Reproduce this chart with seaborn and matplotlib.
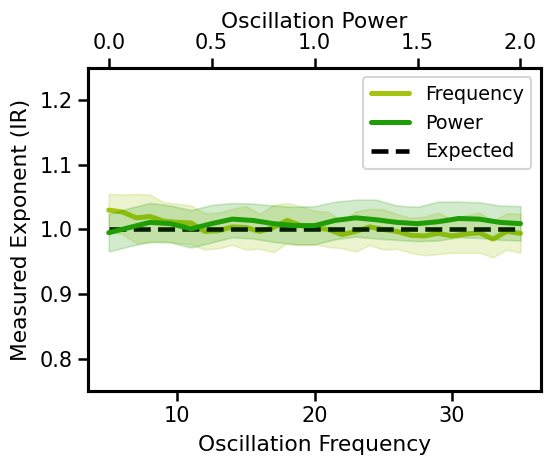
import numpy as np
import pandas as pd
import matplotlib
matplotlib.use("Agg")
import matplotlib.pyplot as plt
import seaborn as sns

# ---- data ----
freqs = list(range(5, 36))
freq_mean = [1.030, 1.027, 1.018, 1.020, 1.013, 1.011, 1.010, 0.997, 0.998, 1.004,
             1.003, 0.997, 1.003, 1.014, 1.006, 1.003, 1.000, 0.992, 0.997, 1.004,
             1.000, 0.997, 0.991, 0.990, 0.994, 0.990, 0.993, 0.995, 0.985, 0.997, 0.994]
freq_lower = [0.997, 0.993, 0.979, 0.980, 0.982, 0.979, 0.977, 0.969, 0.971, 0.976,
              0.969, 0.970, 0.965, 0.979, 0.976, 0.977, 0.973, 0.971, 0.966, 0.976,
              0.969, 0.970, 0.964, 0.960, 0.962, 0.964, 0.964, 0.964, 0.957, 0.969, 0.964]
freq_upper = [1.055, 1.054, 1.055, 1.054, 1.042, 1.040, 1.037, 1.025, 1.026, 1.032,
              1.036, 1.024, 1.038, 1.041, 1.036, 1.029, 1.027, 1.013, 1.028, 1.032,
              1.031, 1.024, 1.018, 1.020, 1.026, 1.016, 1.022, 1.026, 1.013, 1.025, 1.024]

powers = [0.0, 0.1, 0.2, 0.3, 0.4, 0.5, 0.6, 0.7, 0.8, 0.9, 1.0,
          1.1, 1.2, 1.3, 1.4, 1.5, 1.6, 1.7, 1.8, 1.9, 2.0]
pow_mean = [0.995, 1.003, 1.011, 1.009, 1.001, 1.009, 1.016, 1.014, 1.009, 1.006, 1.006,
            1.014, 1.018, 1.015, 1.011, 1.009, 1.012, 1.017, 1.016, 1.011, 1.009]
pow_lower = [0.966, 0.974, 0.981, 0.980, 0.972, 0.980, 0.988, 0.986, 0.981, 0.977, 0.977,
             0.985, 0.989, 0.986, 0.984, 0.982, 0.983, 0.988, 0.987, 0.984, 0.983]
pow_upper = [1.024, 1.033, 1.041, 1.037, 1.030, 1.038, 1.041, 1.040, 1.037, 1.035, 1.036,
             1.043, 1.046, 1.046, 1.037, 1.035, 1.043, 1.043, 1.042, 1.037, 1.036]

expected_x = [5, 35]
expected_y = [1.0, 1.0]

labels = ["Frequency", "Power", "Expected"]
x_label_bottom = "Oscillation Frequency"
x_label_top = "Oscillation Power"
y_label = "Measured Exponent (IR)"

# ---- style ----
sns.set_theme(style="ticks", context="talk")
plt.rcParams["font.family"] = ["DejaVu Sans"]
plt.rcParams.update({
    "text.color": "black",
    "axes.labelcolor": "black",
    "xtick.color": "black",
    "ytick.color": "black",
    "axes.edgecolor": "black",
})

c_freq = "#a4c410"
c_pow = "#1f9d06"

fig = plt.figure(figsize=(5.51, 4.65), dpi=100)
ax = fig.add_axes([0.160, 0.159, 0.822, 0.695])

df_f = pd.DataFrame({"x": freqs, "y": freq_mean})
df_p = pd.DataFrame({"x": powers, "y": pow_mean})

ax.fill_between(freqs, freq_lower, freq_upper, color=c_freq, alpha=0.2, linewidth=1.2)
sns.lineplot(data=df_f, x="x", y="y", ax=ax, color=c_freq, linewidth=3.6, label=labels[0])
ax.plot(expected_x, expected_y, color="black", linestyle="--", linewidth=3.3,
        label=labels[2], zorder=3)

ax2 = ax.twiny()
ax2.fill_between(powers, pow_lower, pow_upper, color=c_pow, alpha=0.2, linewidth=1.2)
sns.lineplot(data=df_p, x="x", y="y", ax=ax2, color=c_pow, linewidth=3.6, label=labels[1])

ax.set_xlim(3.5, 36.5)
ax2.set_xlim(-0.1, 2.1)
ax.set_ylim(0.75, 1.25)
ax.set_xticks([10, 20, 30])
ax.set_yticks([0.8, 0.9, 1.0, 1.1, 1.2])
ax2.set_xticks([0.0, 0.5, 1.0, 1.5, 2.0])

ax.set_xlabel(x_label_bottom, fontsize=15.7, labelpad=6)
ax.set_ylabel(y_label, fontsize=15.7, labelpad=6)
ax2.set_xlabel(x_label_top, fontsize=15.7, labelpad=3)
ax2.set_ylabel("")

for a in (ax, ax2):
    a.tick_params(labelsize=15, width=1.8, length=7.5, colors="black")
    for s in a.spines.values():
        s.set_linewidth(2.2)
        s.set_color("black")

# legend combining both axes
h1, l1 = ax.get_legend_handles_labels()
h2, l2 = ax2.get_legend_handles_labels()
hd = dict(zip(l1 + l2, h1 + h2))
if ax2.get_legend() is not None:
    ax2.get_legend().remove()
if ax.get_legend() is not None:
    ax.get_legend().remove()
leg = ax2.legend([hd[k] for k in labels], labels, loc="upper right", fontsize=13.8,
                 frameon=True, handlelength=2.0, borderaxespad=0.5)
for t in leg.get_texts():
    t.set_color("black")

fig.savefig("out.png", dpi=100)
